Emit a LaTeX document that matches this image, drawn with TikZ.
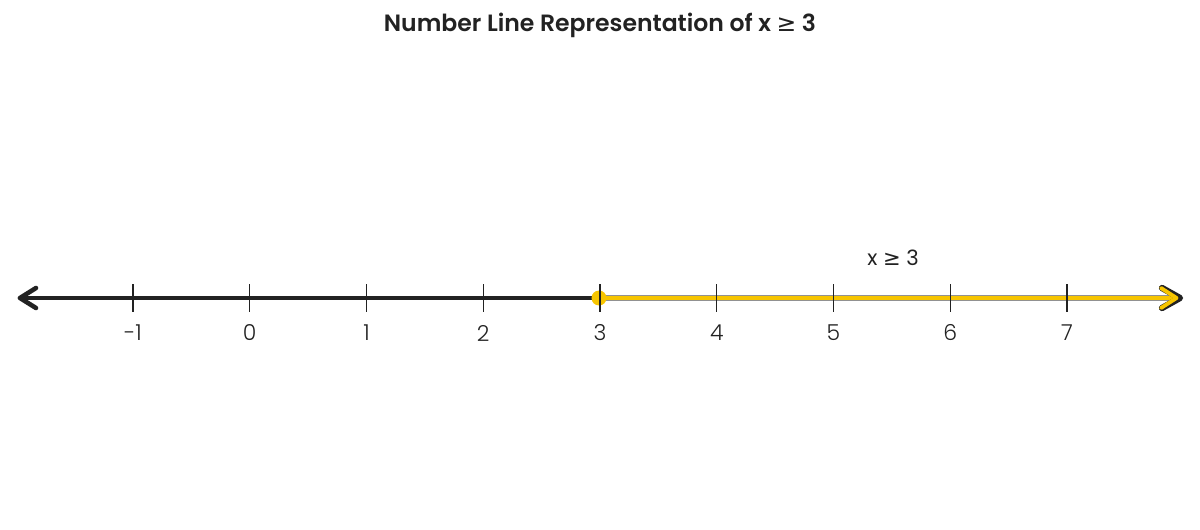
\documentclass[tikz,border=0pt]{standalone}
\usepackage{fontspec}
\setmainfont{Poppins}[BoldFont={Poppins SemiBold}]
\newfontfamily\lightfont{Poppins Light}
\newfontfamily\symfont{DejaVu Sans}
\usepackage{tikz}
\usetikzlibrary{arrows.meta, positioning}
\definecolor{lineblack}{RGB}{34, 34, 34}
\definecolor{solgold}{RGB}{247, 197, 0}

\begin{document}
\begin{tikzpicture}[
  x=0.02cm, y=-0.02cm,
  tick/.style={draw=lineblack, line width=0.8pt},
  ticklabel/.style={font=\lightfont\fontsize{12.5}{14}\selectfont, text=lineblack},
  axisline/.style={line width=2.6pt, line cap=round},
  chevron/.style={line width=2.6pt, line cap=round, line join=round}
]
  \useasboundingbox (0,0) rectangle (1200,530);

  % Title
  \node[font=\fontsize{13.4}{16}\selectfont\bfseries, text=lineblack] (title) at (600,25) {Number Line Representation of x {\symfont\mdseries ≥} 3};

  % Ends of the line
  \coordinate (leftend) at (20,298);
  \coordinate (origin3) at (599,298);
  \coordinate (rightend) at (1180,298);

  % Black part
  \draw[axisline, lineblack] (leftend) -- (origin3);
  \draw[chevron, lineblack] ([shift={(16,-10)}]leftend) -- (leftend) -- ([shift={(16,10)}]leftend);

  % Solution part
  \draw[line width=3.4pt, lineblack!50] (origin3) -- ([xshift=-4]rightend);
  \draw[line width=2.4pt, solgold] (origin3) -- ([xshift=-4]rightend);
  \draw[line width=3.6pt, line cap=round, line join=round, lineblack] ([shift={(-18,-10)}]rightend) -- (rightend) -- ([shift={(-18,10)}]rightend);
  \draw[line width=2.2pt, line cap=round, line join=round, solgold] ([shift={(-19,-10)}]rightend) -- ([xshift=-2]rightend) -- ([shift={(-19,10)}]rightend);
  \fill[solgold] (origin3) circle[radius=7.5];

  % Ticks and labels
  \foreach \n [count=\i from 0] in {-1,0,1,2,3,4,5,6,7} {
    \draw[tick] (133+116.75*\i,284) -- (133+116.75*\i,312);
    \node[ticklabel] (lab\i) at (133+116.75*\i,333) {\n};
  }

  % Solution label
  \node[font=\fontsize{12}{14}\selectfont, text=lineblack] (sol) at (893,258) {x {\symfont ≥} 3};
\end{tikzpicture}
\end{document}
